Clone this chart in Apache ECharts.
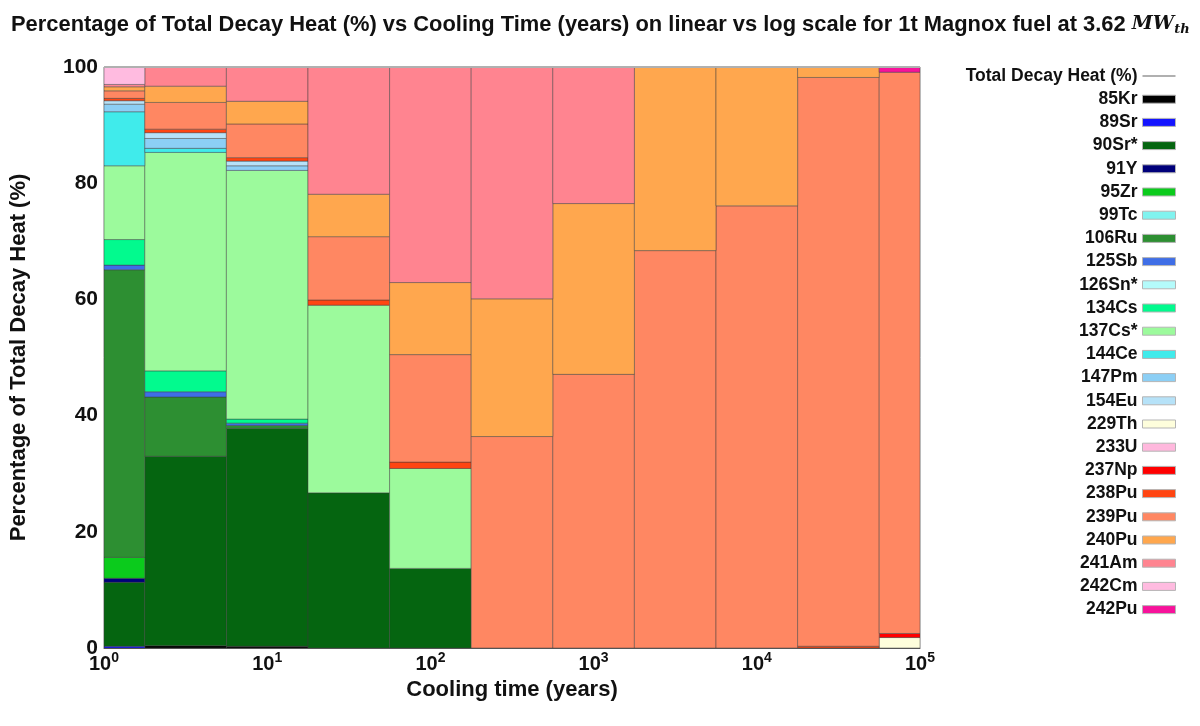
<!DOCTYPE html>
<html>
<head>
<meta charset="utf-8">
<script src="https://cdn.jsdelivr.net/npm/echarts@6/dist/echarts.min.js"></script>
<style>html,body{margin:0;padding:0;background:#fff;}#c{width:1200px;height:726px;}</style>
</head>
<body>
<div id="c"></div>
<script>
// Cooling times (years) at the centre of each bar
var times = [1, 3.162, 10, 31.62, 100, 316.2, 1000, 3162, 10000, 31623, 100000];
var xTicks = [1, 10, 100, 1000, 10000, 100000];
var yTicks = [0, 20, 40, 60, 80, 100];
var totalDecayHeat = [100, 100, 100, 100, 100, 100, 100, 100, 100, 100, 100];

var nuclides = ['85Kr','89Sr','90Sr*','91Y','95Zr','99Tc','106Ru','125Sb','126Sn*','134Cs','137Cs*','144Ce','147Pm','154Eu','229Th','233U','237Np','238Pu','239Pu','240Pu','241Am','242Cm','242Pu'];

var kr85  = [0, 0.4, 0.3, 0, 0, 0, 0, 0, 0, 0, 0];
var sr89  = [0.3, 0, 0, 0, 0, 0, 0, 0, 0, 0, 0];
var sr90  = [11.0, 32.6, 37.5, 26.7, 13.7, 0, 0, 0, 0, 0, 0];
var y91   = [0.7, 0, 0, 0, 0, 0, 0, 0, 0, 0, 0];
var zr95  = [3.6, 0, 0, 0, 0, 0, 0, 0, 0, 0, 0];
var tc99  = [0, 0, 0, 0, 0, 0, 0, 0, 0, 0, 0];
var ru106 = [49.5, 10.2, 0.5, 0, 0, 0, 0, 0, 0, 0, 0];
var sb125 = [0.8, 0.9, 0.4, 0, 0, 0, 0, 0, 0, 0, 0];
var sn126 = [0, 0, 0, 0, 0, 0, 0, 0, 0, 0, 0];
var cs134 = [4.4, 3.6, 0.7, 0, 0, 0, 0, 0, 0, 0, 0];
var cs137 = [12.7, 37.6, 42.8, 32.3, 17.2, 0, 0, 0, 0, 0, 0];
var ce144 = [9.3, 0.7, 0, 0, 0, 0, 0, 0, 0, 0, 0];
var pm147 = [1.3, 1.7, 0.8, 0, 0, 0, 0, 0, 0, 0, 0];
var eu154 = [0.6, 1.0, 0.8, 0, 0, 0, 0, 0, 0, 0, 0];
var th229 = [0, 0, 0, 0, 0, 0, 0, 0, 0, 0, 1.8];
var u233  = [0, 0, 0, 0, 0, 0, 0, 0, 0, 0, 0];
var np237 = [0, 0, 0, 0, 0, 0, 0, 0, 0, 0, 0.7];
var pu238 = [0.4, 0.6, 0.6, 0.9, 1.1, 0, 0, 0, 0, 0.3, 0];
var pu239 = [1.3, 4.6, 5.8, 10.9, 18.5, 36.4, 47.1, 68.4, 76.1, 97.9, 96.6];
var pu240 = [0.7, 2.8, 3.9, 7.3, 12.4, 23.7, 29.4, 31.6, 23.9, 1.8, 0];
var am241 = [0.4, 3.3, 5.9, 21.9, 37.1, 39.9, 23.5, 0, 0, 0, 0];
var cm242 = [3.0, 0, 0, 0, 0, 0, 0, 0, 0, 0, 0];
var pu242 = [0, 0, 0, 0, 0, 0, 0, 0, 0, 0, 0.9];

var values = [kr85, sr89, sr90, y91, zr95, tc99, ru106, sb125, sn126, cs134, cs137, ce144, pm147, eu154, th229, u233, np237, pu238, pu239, pu240, am241, cm242, pu242];
var colors = ['#000000','#1414ff','#056510','#00007a','#0bcb1c','#80f3ef','#2d8f32','#3f6ee6','#b4fbfb','#02fa8e','#9cfa9c','#40ebeb','#8ccff5','#b6e2f8','#fefedc','#ffb8dd','#ff0000','#ff4512','#ff8762','#ffa74e','#ff8490','#ffbbe0','#f7129b'];

var HALF = Math.pow(10, 0.25); // bar half-width factor on the log axis

var chart = echarts.init(document.getElementById('c'));
var cum = times.map(function(){return 0;});
var series = [];
values.forEach(function(arr, i){
  var data = [];
  arr.forEach(function(v, j){
    var b = cum[j];
    cum[j] += v;
    if (v > 0) data.push([times[j], b, cum[j]]);
  });
  series.push({
    name: nuclides[i],
    type: 'custom',
    clip: true,
    itemStyle: {color: colors[i]},
    encode: {x: 0, y: [1, 2]},
    data: data,
    renderItem: function(params, api){
      var t = api.value(0), y0 = api.value(1), y1 = api.value(2);
      var p0 = api.coord([t / HALF, y0]);
      var p1 = api.coord([t * HALF, y1]);
      var cs = params.coordSys;
      var rect = echarts.graphic.clipRectByRect(
        {x: p0[0], y: p1[1], width: p1[0] - p0[0], height: p0[1] - p1[1]},
        {x: cs.x, y: cs.y, width: cs.width, height: cs.height});
      if (!rect) return null;
      return {type: 'rect', shape: rect,
        style: {fill: api.visual('color'), stroke: 'rgba(60,60,60,0.45)', lineWidth: 1}};
    }
  });
});
series.unshift({
  name: 'Total Decay Heat (%)',
  type: 'line',
  symbol: 'none',
  showSymbol: false,
  z: 5,
  lineStyle: {color: '#b0b0b0', width: 2},
  itemStyle: {color: '#b0b0b0'},
  data: times.map(function(t, j){ return [t, totalDecayHeat[j]]; })
});

var legendData = [{name: 'Total Decay Heat (%)', icon: 'path://M0,3L32,3L32,5L0,5Z', itemStyle: {color: '#b0b0b0', borderWidth: 0}}].concat(nuclides.map(function(n){
  return {name: n, icon: 'rect', itemStyle: {borderColor: '#b5b5b5', borderWidth: 1}};
}));

chart.setOption({
  animation: false,
  title: {
    text: 'Percentage of Total Decay Heat (%) vs Cooling Time (years) on linear vs log scale for 1t Magnox fuel at 3.62 {i|MW}{s|th}',
    left: 6, top: 8,
    textStyle: {
      fontFamily: 'Liberation Sans', fontWeight: 'bold', fontSize: 21.9, color: '#111',
      rich: {
        i: {fontFamily: 'DejaVu Serif', fontStyle: 'italic', fontWeight: 'bold', fontSize: 19, color: '#111'},
        s: {fontFamily: 'DejaVu Serif', fontStyle: 'italic', fontWeight: 'bold', fontSize: 13, color: '#111', padding: [10, 0, 0, 0]}
      }
    }
  },
  legend: {
    orient: 'vertical',
    align: 'right',
    right: 19, top: 62,
    itemWidth: 33, itemHeight: 8,
    itemGap: 5.2,
    selectedMode: false,
    textStyle: {fontFamily: 'Liberation Sans', fontWeight: 'bold', fontSize: 17.5, color: '#111', lineHeight: 18},
    data: legendData
  },
  grid: {left: 103, right: 280, top: 67, bottom: 78, show: true, borderColor: '#777', borderWidth: 1, backgroundColor: 'transparent'},
  xAxis: {
    type: 'log', logBase: 10, min: xTicks[0], max: xTicks[xTicks.length - 1],
    name: 'Cooling time (years)', nameLocation: 'middle', nameGap: 22,
    nameTextStyle: {fontFamily: 'Liberation Sans', fontWeight: 'bold', fontSize: 22, color: '#111'},
    axisLine: {show: true, lineStyle: {color: '#555'}},
    axisTick: {show: false},
    splitLine: {show: false},
    axisLabel: {
      margin: 3,
      formatter: function(v){ return '{b|10}{s|' + Math.round(Math.log10(v)) + '}'; },
      rich: {
        b: {fontFamily: 'Liberation Sans', fontWeight: 'bold', fontSize: 20, color: '#111'},
        s: {fontFamily: 'Liberation Sans', fontWeight: 'bold', fontSize: 14, color: '#111', padding: [0, 0, 12, 0]}
      }
    }
  },
  yAxis: {
    type: 'value', min: yTicks[0], max: yTicks[yTicks.length - 1], interval: yTicks[1] - yTicks[0],
    name: 'Percentage of Total Decay Heat (%)', nameLocation: 'middle', nameGap: 74,
    nameTextStyle: {fontFamily: 'Liberation Sans', fontWeight: 'bold', fontSize: 22, color: '#111'},
    axisLine: {show: true, lineStyle: {color: '#555'}},
    axisTick: {show: false},
    splitLine: {show: false},
    axisLabel: {margin: 6, fontFamily: 'Liberation Sans', fontWeight: 'bold', fontSize: 21, color: '#111'}
  },
  series: series
});
</script>
</body>
</html>
